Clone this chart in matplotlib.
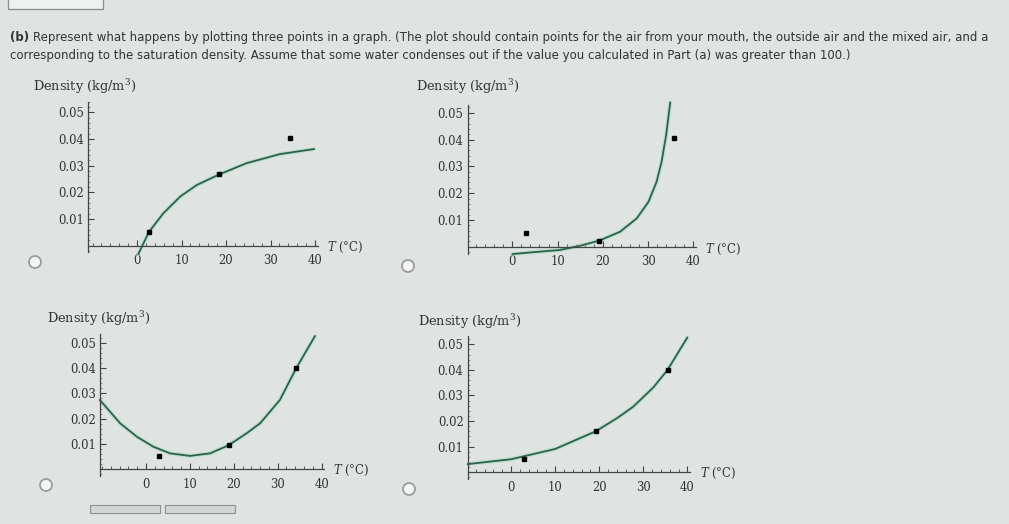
import matplotlib
matplotlib.use("Agg")
import matplotlib.pyplot as plt
from matplotlib.patches import Ellipse, Rectangle
from matplotlib.ticker import MultipleLocator, FixedLocator

W, H = 1009, 524
BG = "#dfe3e1"

# ---------------- data ----------------
x_ticks = [0, 10, 20, 30, 40]
y_ticks = [0.01, 0.02, 0.03, 0.04, 0.05]
y_ticklabels = ["0.01", "0.02", "0.03", "0.04", "0.05"]

# Panel A (top left)
a_curve_T = [0.3, 2.7, 5.9, 9.7, 13.4, 18.5, 24.6, 32.1, 39.8]
a_curve_rho = [-0.0031, 0.0052, 0.0121, 0.0184, 0.0227, 0.0267, 0.0309, 0.0343, 0.0362]
a_pts_T = [2.7, 18.5, 34.4]
a_pts_rho = [0.0052, 0.0267, 0.0404]

# Panel B (top right)
b_curve_T = [0.0, 6.1, 10.5, 15.0, 19.2, 23.8, 27.5, 30.1, 31.9, 33.0, 34.0, 34.9]
b_curve_rho = [-0.0027, -0.0018, -0.0012, 0.0004, 0.0023, 0.0056, 0.0106, 0.0168, 0.0243, 0.0318, 0.0417, 0.0539]
b_pts_T = [2.95, 19.2, 35.8]
b_pts_rho = [0.0050, 0.0023, 0.0407]

# Panel C (bottom left)
c_curve_T = [-10.5, -5.9, -2.1, 1.7, 5.5, 10.0, 14.6, 18.8, 22.9, 26.0, 30.5, 34.2, 38.5]
c_curve_rho = [0.0274, 0.0182, 0.0129, 0.0089, 0.0063, 0.0053, 0.0063, 0.0095, 0.0142, 0.0182, 0.0274, 0.0399, 0.0527]
c_pts_T = [2.9, 18.8, 34.2]
c_pts_rho = [0.0054, 0.0095, 0.0400]

# Panel D (bottom right)
d_curve_T = [-9.8, 0.0, 10.0, 19.2, 24.0, 27.7, 32.3, 35.5, 40.0]
d_curve_rho = [0.0032, 0.0051, 0.0091, 0.0160, 0.0211, 0.0256, 0.0332, 0.0400, 0.0527]
d_pts_T = [2.95, 19.2, 35.5]
d_pts_rho = [0.0053, 0.0160, 0.0400]

title_line1 = ("Represent what happens by plotting three points in a graph. (The plot should contain "
               "points for the air from your mouth, the outside air and the mixed air, and a")
title_line2 = ("corresponding to the saturation density. Assume that some water condenses out if the "
               "value you calculated in Part (a) was greater than 100.)")

# ---------------- figure ----------------
fig = plt.figure(figsize=(W / 100, H / 100), dpi=100)
fig.patch.set_facecolor(BG)
plt.rcParams["mathtext.fontset"] = "dejavuserif"

def fx(px):
    return px / W

def fy(py):
    return 1 - py / H

TXT = "#333333"
SERIF = ["DejaVu Serif"]

def panel(T0px, sx, y0px, sy, xlim, ylim, curve_T, curve_rho, pts_T, pts_rho, label_xy, tlabel_xy):
    left = T0px + xlim[0] * sx
    right = T0px + xlim[1] * sx
    top = y0px - ylim[1] * sy
    bottom = y0px - ylim[0] * sy
    ax = fig.add_axes([fx(left), fy(bottom), (right - left) / W, (bottom - top) / H])
    ax.set_xlim(*xlim)
    ax.set_ylim(*ylim)
    ax.patch.set_alpha(0)
    for s in ("top", "right"):
        ax.spines[s].set_visible(False)
    ax.spines["bottom"].set_position(("data", 0))
    for s in ("left", "bottom"):
        ax.spines[s].set_color("#444444")
        ax.spines[s].set_linewidth(0.9)
    ax.xaxis.set_major_locator(FixedLocator(x_ticks))
    ax.xaxis.set_minor_locator(MultipleLocator(2))
    ax.set_xticklabels([str(t) for t in x_ticks], family=SERIF, fontsize=8.4, color=TXT)
    ax.yaxis.set_major_locator(FixedLocator(y_ticks))
    ax.yaxis.set_minor_locator(MultipleLocator(0.002))
    ax.set_yticklabels(y_ticklabels, family=SERIF, fontsize=8.4, color=TXT)
    ax.tick_params(axis="x", which="major", direction="in", length=4, width=0.8, color="#444444", pad=6)
    ax.tick_params(axis="x", which="minor", direction="in", length=2.2, width=0.6, color="#444444")
    ax.tick_params(axis="y", which="major", direction="in", length=4, width=0.8, color="#444444", pad=3)
    ax.tick_params(axis="y", which="minor", direction="in", length=1.5, width=0.5, color="#666666")
    ax.plot(curve_T, curve_rho, color="#a8dcc6", lw=3.0, alpha=0.6, solid_joinstyle="round",
            solid_capstyle="round", clip_on=False)
    ax.plot(curve_T, curve_rho, color="#2d6248", lw=1.3, solid_joinstyle="round",
            solid_capstyle="round", clip_on=False)
    ax.plot(pts_T, pts_rho, ls="none", marker="s", ms=3, color="black", clip_on=False)
    fig.text(fx(label_xy[0]), fy(label_xy[1]), "Density (kg/m$^3$)", family=SERIF,
             fontsize=9.3, color=TXT, ha="left", va="center")
    fig.text(fx(tlabel_xy[0]), fy(tlabel_xy[1]), "$T$ (°C)", family=SERIF,
             fontsize=8.4, color=TXT, ha="left", va="center")
    return ax

panel(137, 4.45, 245.7, 2670, (-11, 40.7), (-0.0025, 0.054),
      a_curve_T, a_curve_rho, a_pts_T, a_pts_rho, (33, 87), (327, 247))
panel(512.3, 4.525, 246.8, 2680, (-9.9, 40.5), (-0.0025, 0.053),
      b_curve_T, b_curve_rho, b_pts_T, b_pts_rho, (416, 87), (705, 249))
panel(146, 4.39, 469.3, 2530, (-10.5, 40.5), (-0.0025, 0.0533),
      c_curve_T, c_curve_rho, c_pts_T, c_pts_rho, (47, 319), (333, 470))
panel(511, 4.41, 472.3, 2560, (-9.8, 40.5), (-0.0025, 0.0533),
      d_curve_T, d_curve_rho, d_pts_T, d_pts_rho, (418, 322), (700, 473))

# ---------------- question text ----------------
fs_q = 8.5
fig.text(fx(10), fy(38), "(b)", fontsize=fs_q, weight="bold", color=TXT, family="DejaVu Sans",
         ha="left", va="center")
fig.text(fx(33), fy(38), title_line1, fontsize=fs_q, color=TXT, family="DejaVu Sans",
         ha="left", va="center")
fig.text(fx(10), fy(56), title_line2, fontsize=fs_q, color=TXT, family="DejaVu Sans",
         ha="left", va="center")

# input box at top
fig.patches.append(Rectangle((fx(8), fy(9)), (103 - 8) / W, 20 / H, transform=fig.transFigure,
                             facecolor="#eef0ef", edgecolor="#8a8d8c", lw=0.9))

# radio buttons
for cx, cy in [(35, 262), (408, 266), (46, 485), (409, 489)]:
    fig.patches.append(Ellipse((fx(cx), fy(cy)), 12 / W, 12 / H, transform=fig.transFigure,
                               facecolor="#f4f5f4", edgecolor="#9a9d9c", lw=1.3))

# buttons at bottom
for bx in (90, 165):
    fig.patches.append(Rectangle((fx(bx), fy(513)), 70 / W, 8 / H, transform=fig.transFigure,
                                 facecolor="#d4d6d4", edgecolor="#8e908f", lw=0.8))

fig.savefig("out.png", dpi=100, facecolor=BG)
